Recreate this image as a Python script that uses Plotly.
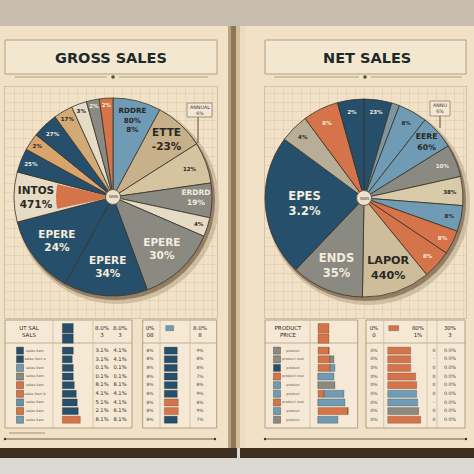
import plotly.graph_objects as go

W = H = 474
def X(px): return px / W
def Y(py): return 1 - py / H

# palette
DB = '#264f6b'; LB = '#6f9bb5'; TN = '#c8b08b'; LT = '#d6c4a0'; GR = '#8b8a82'
CR = '#e6dbc5'; OR = '#d5744b'; TO = '#d9a46c'; MU = '#d2aa76'; GB = '#7d96a2'
TG = '#b8ad96'; TL = '#5f97a6'; PT = '#cdbd9b'
LIGHT_TXT = '#f4ecdc'; DARK_TXT = '#2a2823'
PAGE = '#f1e2c7'; PANEL = '#f5e9d5'; EDGE = '#b29f80'

# ---------------- data ----------------
gross_values = [7.8, 8.1, 6.7, 5.6, 3.1, 12.8, 13.6, 12.8, 8.1, 3.9, 2.8, 4.2, 3.1, 2.5, 2.1, 2.2]
gross_text = ["RDDRE<br>80%<br>8%", "ETTE<br>-23%", "12%", "ERDRD<br>19%", "4%", "EPERE<br>30%",
              "EPERE<br>34%", "EPERE<br>24%", "INTOS<br>471%", "25%", "2%", "27%", "17%", "3%", "2%", "2%"]
gross_colors = [LB, TN, LT, GR, CR, GR, DB, DB, CR, DB, TO, DB, MU, CR, GR, OR]
gross_inner_values = [71.7, 6.9, 21.4]

net_values = [4.5, 1.3, 4.7, 5.6, 5.3, 4.7, 4.2, 3.9, 4.7, 11.1, 11.8, 22.9, 4.7, 5.8, 4.3]
net_text = ["23%", "", "8%", "EERE<br>60%", "10%", "38%", "8%", "8%", "8%", "LAPOR<br>440%",
            "ENDS<br>35%", "EPES<br>3.2%", "4%", "8%", "2%"]
net_colors = [DB, GB, LB, LB, GR, '#d9cba9', LB, OR, OR, PT, GR, DB, TG, OR, DB]

rows = [0, 1, 2, 3, 4, 5, 6, 7, 8]
head_rows = [-2.6, -1.4]

gross_t1_vals = [11, 10, 11, 11, 12, 14, 15, 16, 18]
gross_t1_colors = [DB, DB, DB, DB, DB, DB, DB, DB, OR]
gross_t1_keys = [DB, DB, LB, GR, OR, OR, TL, OR, LB]
gross_t1_items = ["sales item", "sales item a", "sales item", "sales item", "sales item",
                  "sales item b", "sales item", "sales item", "sales item"]
gross_t1_pct_a = ["3.1%", "3.1%", "0.1%", "0.1%", "8.1%", "4.1%", "5.1%", "2.1%", "8.1%"]
gross_t1_pct_b = ["4.1%", "4.1%", "0.1%", "0.1%", "8.1%", "4.1%", "4.1%", "6.1%", "8.1%"]
gross_t1_head = [11, 11]
gross_t2_vals = [13, 13, 13, 13, 13, 13, 14, 14, 13]
gross_t2_colors = [DB, DB, DB, DB, DB, DB, OR, OR, DB]
gross_t2_lbl = ["8%", "8%", "8%", "8%", "8%", "8%", "8%", "8%", "8%"]
gross_t2_pct = ["9%", "8%", "8%", "7%", "8%", "9%", "8%", "9%", "7%"]
gross_t2_head = [8]

net_t1_a = [11, 12, 12, 0, 0, 6, 0, 30, 0]
net_t1_a_colors = [OR, OR, OR, OR, OR, OR, OR, OR, OR]
net_t1_b = [0, 4, 5, 16, 17, 20, 27, 0, 20]
net_t1_b_colors = [GR, GR, LB, LB, GR, LB, LB, LB, LB]
net_t1_keys = [GR, GR, DB, OR, LB, LB, OR, LB, GR]
net_t1_items = ["product", "product cost", "product", "product cost", "product",
                "product", "product cost", "product", "product"]
net_t1_head = [11, 11]
net_t2_vals = [23, 23, 23, 28, 29, 29, 30, 31, 33]
net_t2_colors = [OR, OR, OR, OR, OR, LB, LB, GR, OR]
net_t2_lbl = ["0%", "0%", "0%", "0%", "0%", "0%", "0%", "0%", "0%"]
net_t2_mid = ["0", "-", "0", "0", "0", "0", "-", "0", "0"]
net_t2_pct = ["0.0%", "0.0%", "0.0%", "0.0%", "0.0%", "0.0%", "0.0%", "0.0%", "0.0%"]
net_t2_head = [10]

DARKS = {DB, GR, OR, TL}
def txtcol(cols):
    return [LIGHT_TXT if c in DARKS else DARK_TXT for c in cols]
def txtsize(txts, big, small):
    return [big if '<br>' in t else small for t in txts]

fig = go.Figure()

# ---------------- pies ----------------
fig.add_trace(go.Pie(
    values=gross_values, text=gross_text, textinfo='text', sort=False, direction='clockwise',
    marker=dict(colors=gross_colors, line=dict(color='#3b3328', width=0.8)),
    textposition='inside', insidetextorientation='horizontal',
    textfont=dict(color=txtcol(gross_colors), size=txtsize(gross_text, 10.5, 5.5), family='DejaVu Sans', weight='bold'),
    domain=dict(x=[X(14), X(212)], y=[Y(296), Y(98)]), hoverinfo='skip', showlegend=False))
fig.add_trace(go.Pie(
    values=gross_inner_values, textinfo='none', sort=False, direction='clockwise',
    marker=dict(colors=['rgba(0,0,0,0)', OR, 'rgba(0,0,0,0)'], line=dict(width=0)),
    domain=dict(x=[X(56), X(170)], y=[Y(254), Y(140)]), hoverinfo='skip', showlegend=False))
fig.add_trace(go.Pie(
    values=net_values, text=net_text, textinfo='text', sort=False, direction='clockwise',
    marker=dict(colors=net_colors, line=dict(color='#3b3328', width=0.8)),
    textposition='inside', insidetextorientation='horizontal',
    textfont=dict(color=txtcol(net_colors), size=txtsize(net_text, 11.5, 5.5), family='DejaVu Sans', weight='bold'),
    domain=dict(x=[X(265), X(463)], y=[Y(297), Y(99)]), hoverinfo='skip', showlegend=False))

# ---------------- grid axes (decor) ----------------
for ax, (x0, x1) in ((5, (5, 217)), (6, (265, 466))):
    fig.add_trace(go.Scatter(x=[None], y=[None], xaxis=f'x{ax}', yaxis=f'y{ax}', showlegend=False, hoverinfo='skip'))
    gridax = dict(showgrid=True, gridcolor='rgba(175,150,115,0.16)', gridwidth=1, dtick=1,
                  zeroline=False, showticklabels=False, ticks='', showline=True, mirror=True,
                  linecolor='#d3c3a6', linewidth=1)
    fig.update_layout(**{
        f'xaxis{ax}': dict(domain=[X(x0), X(x1)], range=[0, (x1 - x0) / 9], **gridax),
        f'yaxis{ax}': dict(domain=[Y(318), Y(87)], range=[0, 231 / 9], **gridax),
    })

# ---------------- tables ----------------
def hbar(xa, ya, vals, ys, colors, base, width=0.82):
    fig.add_trace(go.Bar(x=vals, y=ys, base=base, orientation='h', xaxis=xa, yaxis=ya, width=width,
                         marker=dict(color=colors, line=dict(color='rgba(40,30,20,0.45)', width=0.5)),
                         hoverinfo='skip', showlegend=False))

def txt(xa, ya, xs, ys, texts, size=6, color='#3a352d', weight='normal'):
    fig.add_trace(go.Scatter(x=xs, y=ys, text=texts, mode='text', xaxis=xa, yaxis=ya,
                             textfont=dict(size=size, color=color, family='DejaVu Sans', weight=weight),
                             hoverinfo='skip', showlegend=False))

def keys(xa, ya, xc, cols):
    fig.add_trace(go.Scatter(x=[xc] * len(cols), y=rows, mode='markers', xaxis=xa, yaxis=ya,
                             marker=dict(symbol='square', size=7, color=cols, line=dict(color='#3b3328', width=0.4)),
                             hoverinfo='skip', showlegend=False))

# left page (gross)
hbar('x3', 'y3', gross_t1_vals, rows, gross_t1_colors, 62.3)
hbar('x3', 'y3', gross_t1_head, head_rows, [DB, DB], 62.3, width=1.1)
hbar('x3', 'y3', gross_t2_vals, rows, gross_t2_colors, 164.3)
hbar('x3', 'y3', gross_t2_head, head_rows[:1], [LB], 165.7, width=0.6)
keys('x3', 'y3', 20, gross_t1_keys)
txt('x3', 'y3', [35] * 9, rows, gross_t1_items, size=3.5, color='#6a6256')
txt('x3', 'y3', [102] * 9, rows, gross_t1_pct_a, size=5.2, color='#2f2b25')
txt('x3', 'y3', [120] * 9, rows, gross_t1_pct_b, size=5.2, color='#2f2b25')
txt('x3', 'y3', [150] * 9, rows, gross_t2_lbl, size=4.5, color='#4a443a')
txt('x3', 'y3', [200] * 9, rows, gross_t2_pct, size=4.5, color='#4a443a')
txt('x3', 'y3', [29, 102, 120, 150, 200], [-2.1] * 5,
    ["UT SAL<br>SALS", "8.0%<br>3", "8.0%<br>3", "0%<br>08", "8.0%<br>8"], size=5.5, color='#2a2620')

# right page (net)
hbar('x4', 'y4', net_t1_a, rows, net_t1_a_colors, 74)
hbar('x4', 'y4', net_t1_b, rows, net_t1_b_colors, [74 + a for a in net_t1_a])
hbar('x4', 'y4', net_t1_head, head_rows, [OR, OR], 74, width=1.1)
hbar('x4', 'y4', net_t2_vals, rows, net_t2_colors, 143.7)
hbar('x4', 'y4', net_t2_head, head_rows[:1], [OR], 144.7, width=0.6)
keys('x4', 'y4', 33, net_t1_keys)
txt('x4', 'y4', [49] * 9, rows, net_t1_items, size=3.5, color='#6a6256')
txt('x4', 'y4', [130] * 9, rows, net_t2_lbl, size=4.5, color='#4a443a')
txt('x4', 'y4', [190] * 9, rows, net_t2_mid, size=4.5, color='#4a443a')
txt('x4', 'y4', [206] * 9, rows, net_t2_pct, size=4.8, color='#4a443a')
txt('x4', 'y4', [44, 130, 174, 206], [-2.1] * 4,
    ["PRODUCT<br>PRICE", "0%<br>0", "80%<br>1%", "30%<br>3"], size=5.5, color='#2a2620')

tab_y = dict(domain=[Y(424.9), Y(323.0)], range=[8.6, -3.2], visible=False)
fig.update_layout(
    xaxis3=dict(domain=[0, X(230)], range=[0, 230], visible=False),
    yaxis3=dict(anchor='x3', **tab_y),
    xaxis4=dict(domain=[X(244), 1], range=[0, 230], visible=False),
    yaxis4=dict(anchor='x4', **tab_y),
)
fig.update_layout(xaxis3_anchor='y3', xaxis4_anchor='y4', xaxis5_anchor='y5', yaxis5_anchor='x5',
                  xaxis6_anchor='y6', yaxis6_anchor='x6')

# ---------------- decoration shapes ----------------
shapes = []
def rect(x0, y0, x1, y1, fill, line=None, lw=0, layer='below'):
    shapes.append(dict(type='rect', xref='paper', yref='paper', x0=X(x0), x1=X(x1), y0=Y(y1), y1=Y(y0),
                       fillcolor=fill, line=dict(color=line or fill, width=lw), layer=layer))
def line(x0, y0, x1, y1, color, lw=1, layer='below'):
    shapes.append(dict(type='line', xref='paper', yref='paper', x0=X(x0), x1=X(x1), y0=Y(y0), y1=Y(y1),
                       line=dict(color=color, width=lw), layer=layer))
def circ(cx, cy, r, fill, line_c=None, lw=0, layer='below'):
    shapes.append(dict(type='circle', xref='paper', yref='paper', x0=X(cx - r), x1=X(cx + r), y0=Y(cy + r), y1=Y(cy - r),
                       fillcolor=fill, line=dict(color=line_c or fill, width=lw), layer=layer))

rect(0, 0, 474, 27, '#c8beb0')
rect(0, 459, 474, 474, '#dcd9d3')
rect(0, 442, 237, 458, '#3d3020')
rect(240, 442, 474, 458, '#3d3020')
rect(0, 26, 229, 448, PAGE)
rect(244, 26, 474, 448, PAGE)
rect(228, 26, 231, 448, '#b9a27c')
rect(231, 26, 236, 448, '#8d7655')
rect(236, 26, 240, 448, '#d2bd98')
rect(240, 26, 245, 448, '#ecdcc0')
# title boxes
rect(5, 40, 217, 74, '#f4e7d0', EDGE, 1)
rect(265, 40, 466, 74, '#f4e7d0', EDGE, 1)
line(15, 77, 107, 77, EDGE, 1.2); line(119, 77, 208, 77, EDGE, 1.2); circ(113, 77, 1.8, '#5a4c3a')
line(274, 77, 359, 77, EDGE, 1.2); line(371, 77, 462, 77, EDGE, 1.2); circ(365, 77, 1.8, '#5a4c3a')
# pie shadows
circ(117, 202, 102, 'rgba(120,92,60,0.25)')
circ(115, 200, 100, 'rgba(95,70,45,0.55)')
circ(368, 203, 102, 'rgba(120,92,60,0.25)')
circ(366, 201, 100, 'rgba(95,70,45,0.55)')
# table panels
for (a, b) in ((5, 132), (142.7, 216.7), (265, 357.7), (366, 465)):
    rect(a, 320, b, 428, PANEL, EDGE, 1)
    line(a, 343, b, 343, EDGE, 0.8)
for xv in (53, 93, 160, 190, 310, 383.7, 427, 437):
    line(xv, 320, xv, 428, '#cdbb9c', 0.8)
# rulers
line(5, 439, 215, 439, '#6b5d4a', 1); circ(5, 439, 1.2, '#3c3226'); circ(215, 439, 1.2, '#3c3226')
line(265, 439, 466, 439, '#6b5d4a', 1); circ(265, 439, 1.2, '#3c3226'); circ(466, 439, 1.2, '#3c3226')
line(9, 433, 45, 433, '#8a7c66', 0.8)
# callouts
line(198, 117, 198, 143, '#5a4c3a', 1, 'above')
rect(187, 103, 212, 117, '#f3e8d5', '#8f7f66', 0.8, 'above')
line(440, 116, 440, 128, '#5a4c3a', 1, 'above')
rect(430, 101, 450, 116, '#f3e8d5', '#8f7f66', 0.8, 'above')
# centre hubs
circ(113, 197, 7.5, '#ece1cc', '#6b5a45', 1, 'above')
circ(364, 198, 7.5, '#ece1cc', '#6b5a45', 1, 'above')

def note(text, x, y, size, color='#3a352d', weight='normal'):
    return dict(text=text, x=X(x), y=Y(y), xref='paper', yref='paper', showarrow=False,
                xanchor='center', yanchor='middle',
                font=dict(family='DejaVu Sans', size=size, color=color, weight=weight))

annotations = [
    note('GROSS SALES', 111, 58, 14.5, '#1c2a2a', 'bold'),
    note('NET SALES', 367, 58, 14.5, '#1c2a2a', 'bold'),
    note('ANNUAL<br>6%', 199.5, 110, 4.8),
    note('ANNU<br>6%', 440, 108.5, 4.8),
    note('NNN', 113, 197, 4, '#4a4035'),
    note('NNN', 364, 198, 4, '#4a4035'),
]

fig.update_layout(
    width=W, height=H, margin=dict(l=0, r=0, t=0, b=0),
    paper_bgcolor='#dcd9d3', plot_bgcolor='rgba(0,0,0,0)',
    shapes=shapes, annotations=annotations, showlegend=False, barmode='overlay',
    xaxis=dict(visible=False), yaxis=dict(visible=False),
)

fig.write_html('out.html')
